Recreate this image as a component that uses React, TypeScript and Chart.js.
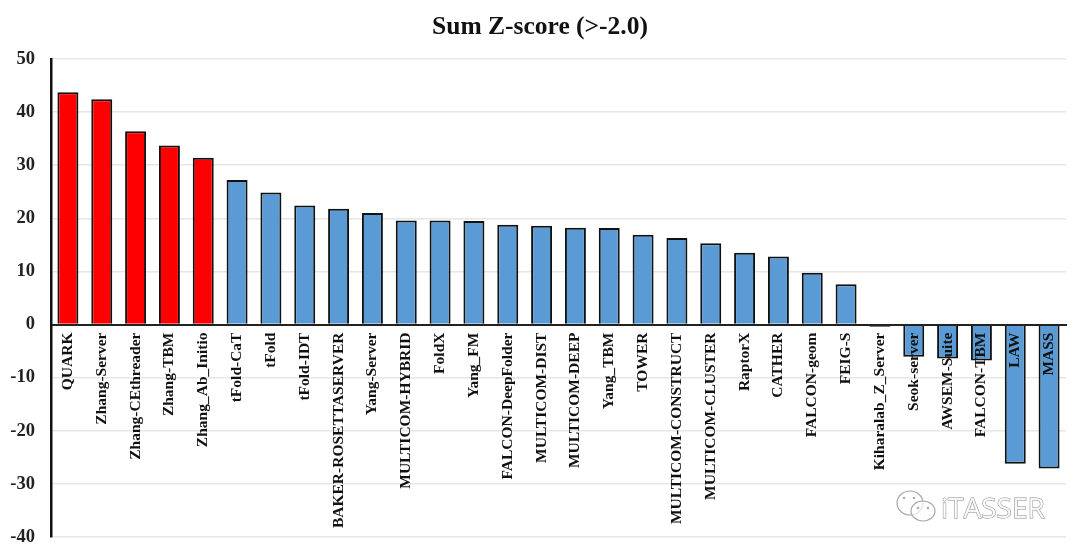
import React, { useEffect, useRef } from "react";
import { Chart, registerables } from "chart.js";

Chart.register(...registerables);

const categories = ["QUARK","Zhang-Server","Zhang-CEthreader","Zhang-TBM","Zhang_Ab_Initio","tFold-CaT","tFold","tFold-IDT","BAKER-ROSETTASERVER","Yang-Server","MULTICOM-HYBRID","FoldX","Yang_FM","FALCON-DeepFolder","MULTICOM-DIST","MULTICOM-DEEP","Yang_TBM","TOWER","MULTICOM-CONSTRUCT","MULTICOM-CLUSTER","RaptorX","CATHER","FALCON-geom","FEIG-S","Kiharalab_Z_Server","Seok-server","AWSEM-Suite","FALCON-TBM","LAW","MASS"];
const sumZ = [43.75,42.4,36.4,33.7,31.4,27.2,24.85,22.4,21.8,21.0,19.6,19.6,19.5,18.8,18.6,18.25,18.2,16.9,16.3,15.3,13.5,12.8,9.75,7.6,-0.4,-6.05,-6.4,-6.75,-26.2,-27.1];
const highlighted = ["QUARK","Zhang-Server","Zhang-CEthreader","Zhang-TBM","Zhang_Ab_Initio"];
const RED = "#FF0000";
const BLUE = "#5B9BD5";
const SERIF = '"Liberation Serif", serif';

const watermark = {
  id: "watermark",
  afterLayout(chart: any) {
    // let the y tick labels extend past the scale box without being clipped
    chart.scales.y.left = 0;
  },
  afterDraw(chart: any) {
    const c = chart.ctx;
    c.save();
    c.font = '28px "Open Sans", sans-serif';
    c.textBaseline = "middle";
    c.textAlign = "left";
    c.fillStyle = "rgba(255,255,255,0.85)";
    c.strokeStyle = "#8c8c8c";
    c.lineWidth = 1;
    c.strokeText("iTASSER", 941, 510);
    c.fillText("iTASSER", 941, 510);
    c.strokeStyle = "#a8a8a8";
    c.lineWidth = 1.2;
    c.fillStyle = "rgba(255,255,255,0.7)";
    c.beginPath(); c.ellipse(910, 503, 13, 12, 0, 0, Math.PI * 2); c.fill(); c.stroke();
    c.beginPath(); c.ellipse(923, 511, 12, 10, 0, 0, Math.PI * 2); c.fill(); c.stroke();
    c.fillStyle = "#a8a8a8";
    for (const [x, y] of [[904, 498], [914, 498], [918, 508], [928, 508]]) {
      c.beginPath(); c.arc(x, y, 1.2, 0, Math.PI * 2); c.fill();
    }
    c.restore();
  },
};

export default function App() {
  const ref = useRef<HTMLCanvasElement>(null);
  useEffect(() => {
    const chart = new Chart(ref.current!, {
      type: "bar",
      data: {
        labels: categories,
        datasets: [{
          data: sumZ,
          backgroundColor: categories.map((n) => (highlighted.includes(n) ? RED : BLUE)),
          borderColor: "#111111",
          borderWidth: 2,
          barPercentage: 0.62,
          categoryPercentage: 1,
        }],
      },
      options: {
        responsive: false,
        animation: false,
        layout: { padding: { left: 14, right: 14, top: 0, bottom: 17 } },
        plugins: {
          legend: { display: false },
          tooltip: { enabled: false },
          title: {
            display: true,
            text: "Sum Z-score (>-2.0)",
            color: "#111111",
            font: { family: SERIF, size: 25.5, weight: "bold" },
            padding: { top: 12, bottom: 16.4 },
          },
        },
        scales: {
          x: {
            position: { y: 0 },
            afterFit: (s: any) => {
              s.height = 0;
              s.paddingTop = s.paddingBottom = s.paddingLeft = s.paddingRight = 0;
            },
            grid: { display: false, drawTicks: false },
            border: { display: true, color: "#222222", width: 2, z: 2 },
            ticks: {
              autoSkip: false,
              minRotation: 90,
              maxRotation: 90,
              padding: 8,
              color: "#111111",
              z: 3,
              font: { family: SERIF, size: 15.5, weight: "bold" },
            },
          },
          y: {
            min: -40,
            max: 50,
            afterFit: (s: any) => {
              s.width = 37;
              s.paddingTop = s.paddingBottom = 0;
            },
            grid: { color: "#E6E6E6", lineWidth: 1.5, drawTicks: false },
            border: { display: true, color: "#111111", width: 2.5, z: 2 },
            ticks: {
              stepSize: 10,
              padding: 16,
              color: "#222222",
              font: { family: SERIF, size: 18.5, weight: "bold" },
            },
          },
        },
      },
      plugins: [watermark],
    } as any);
    return () => chart.destroy();
  }, []);
  return <canvas ref={ref} width={1080} height={554} style={{ position: "fixed", left: 0, top: 0, display: "block" }} />;
}
